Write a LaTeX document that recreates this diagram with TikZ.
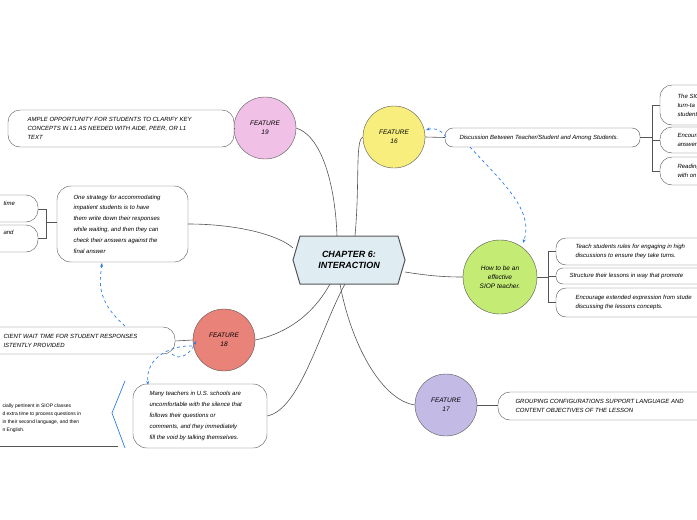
\documentclass[tikz,border=0pt]{standalone}
\usepackage{fontspec}
\setmainfont{Liberation Sans}
\usetikzlibrary{arrows.meta}
\definecolor{gl}{HTML}{555555}
\definecolor{bl}{HTML}{2B7DE9}
\definecolor{cfill}{HTML}{DFECF2}
\definecolor{c19}{HTML}{F0C0E6}
\definecolor{c16}{HTML}{F8EE7D}
\definecolor{chw}{HTML}{C4EC75}
\definecolor{c17}{HTML}{C3BAE6}
\definecolor{c18}{HTML}{E98278}
\tikzset{
 leaf/.style={draw=gl,rounded corners=12pt,fill=white,inner sep=0pt},
 lt/.style={font=\fontsize{6}{9}\selectfont\itshape,align=left,anchor=west},
 feat/.style={circle,draw=gl,minimum size=62pt,font=\fontsize{6.5}{9}\selectfont\itshape,align=center},
 conn/.style={draw=gl,line width=0.6pt},
 dsh/.style={draw=bl,dashed,line width=0.7pt,-{Stealth[length=4pt]}},
}
\begin{document}
\begin{tikzpicture}[x=1pt,y=-1pt]
\useasboundingbox (0,0) rectangle (697,520);
\clip (0,0) rectangle (697,520);
% central
\draw[gl,line width=1pt,fill=cfill] (300,236)--(398,236)--(405,260)--(398,284)--(300,284)--(293,260)--cycle;
\node (c) [minimum width=112pt,minimum height=48pt,font=\fontsize{9}{11}\selectfont\bfseries\itshape,align=center] at (349,260) {CHAPTER 6:\\INTERACTION};
% connectors from centre
\draw[conn] (337,236) .. controls (335,180) and (320,135) .. (296,128);
\draw[conn] (355,236) .. controls (360,180) and (355,140) .. (363,137);
\draw[conn] (405,272) .. controls (430,276) and (445,277) .. (463,277);
\draw[conn] (340,284) .. controls (350,340) and (380,400) .. (415,405);
\draw[conn] (330,284) .. controls (310,320) and (280,335) .. (255,340);
\draw[conn] (345,284) .. controls (320,330) and (300,410) .. (267,416);
% features
\node (f19) [feat,fill=c19] at (265,128) {FEATURE\\19};
\node (f16) [feat,fill=c16] at (394,137) {FEATURE\\16};
\node (hw) [feat,minimum size=74pt,fill=chw] at (500,277) {How to be an\\effective\\SIOP teacher.};
\node (f17) [feat,fill=c17] at (446,405) {FEATURE\\17};
\node (f18) [feat,fill=c18] at (224,340) {FEATURE\\18};
% feature 19
\draw[leaf] (8,110) rectangle (234,147);
\node (t19) [lt] at (24,128) {AMPLE OPPORTUNITY FOR STUDENTS TO CLARIFY KEY\\CONCEPTS IN L1 AS NEEDED WITH AIDE, PEER, OR L1\\TEXT};
\draw[conn] (234,128) -- (f19.west);
% feature 16
\draw[leaf,rounded corners=8pt] (445,128) rectangle (640,147);
\node (d16) [lt] at (456,137.5) {Discussion Between Teacher/Student and Among Students.};
\draw[conn] (f16.east) -- (445,137.5);
\draw[conn] (640,137.5) -- (652,137.5);
\draw[conn] (660,105) -- (652,105) -- (652,171) -- (660,171);
\draw[conn] (652,140) -- (660,140);
\draw[leaf] (660,85) rectangle (720,125);
\node [lt] at (674,105) {The SIO\\turn-ta\\student};
\draw[leaf] (660,127) rectangle (720,153);
\node [lt] at (674,140) {Encoura\\answers};
\draw[leaf] (660,157) rectangle (720,185);
\node [lt] at (674,171) {Reading\\with on};
% how
\draw[conn] (hw.east) -- (548,277);
\draw[conn] (556,251) -- (548,251) -- (548,302) -- (556,302);
\draw[conn] (548,276) -- (556,276);
\draw[leaf,rounded corners=10pt] (556,238) rectangle (720,265);
\node [lt] at (572,251.5) {Teach students rules for engaging in high\\discussions to ensure they take turns.};
\draw[leaf,rounded corners=7pt] (556,268) rectangle (720,284);
\node [lt] at (566,276) {Structure their lessons in way that promote};
\draw[leaf,rounded corners=10pt] (556,288) rectangle (720,317);
\node [lt] at (572,302.5) {Encourage extended expression from stude\\discussing the lessons concepts.};
% feature 17
\draw[conn] (f17.east) -- (498,405);
\draw[leaf] (498,392) rectangle (720,420);
\node [lt] at (512,406) {GROUPING CONFIGURATIONS SUPPORT LANGUAGE AND\\CONTENT OBJECTIVES OF THE LESSON};
% feature 18
\draw[conn] (175,341) -- (f18.west);
\draw[leaf] (-20,327) rectangle (175,354);
\node [lt] at (0,341) {CIENT WAIT TIME FOR STUDENT RESPONSES\\ISTENTLY PROVIDED};
\draw[leaf,rounded corners=14pt] (57,186) rectangle (188,262);
\node [lt,font=\fontsize{6}{10.8}\selectfont\itshape] at (70,224) {One strategy for accommodating\\impatient students is to have\\them write down their responses\\while waiting, and then they can\\check their answers against the\\final answer};
\draw[conn] (188,224) .. controls (240,224) and (280,236) .. (293,248);
\draw[conn] (38,209) -- (46,209) -- (46,238) -- (38,238);
\draw[conn] (46,222) -- (57,222);
\draw[leaf] (-20,195) rectangle (38,222);
\node [lt] at (0,203) {time};
\draw[leaf] (-20,225) rectangle (38,252);
\node [lt] at (0,232) {and};
\draw[leaf,rounded corners=14pt] (133,384) rectangle (267,448);
\node [lt,font=\fontsize{6}{10.8}\selectfont\itshape] at (146,416) {Many teachers in U.S. schools are\\uncomfortable with the silence that\\follows their questions or\\comments, and they immediately\\fill the void by talking themselves.};
\draw[bl,line width=0.7pt] (125,381) -- (112,413) -- (125,448);
\node [lt,font=\fontsize{5}{8}\selectfont] at (-1,418) {cially pertinent in SIOP classes\\d extra time to process questions in\\in their second language, and then\\n English.};
\draw[gl,line width=1pt] (0,446) -- (118,446);
% dashed links
\draw[dsh] (446,137) .. controls (440,128) and (432,128) .. (426,130);
\draw[dsh] (470,147) .. controls (500,180) and (535,210) .. (523,243);
\draw[dsh] (125,326) .. controls (95,300) and (100,280) .. (102,263);
\draw[dsh] (172,354) .. controls (180,362) and (192,352) .. (196,341);
\draw[dsh] (192,346) .. controls (175,345) and (145,355) .. (148,385);
\end{tikzpicture}
\end{document}
